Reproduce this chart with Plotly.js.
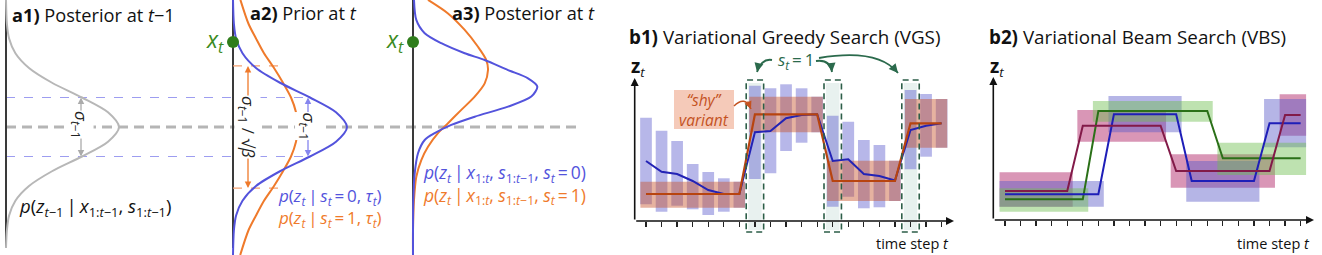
<!DOCTYPE html>
<html><head><meta charset="utf-8">
<script src="https://cdn.plot.ly/plotly-3.0.1.min.js"></script>
<style>html,body{margin:0;padding:0;background:#fff;}#chart{width:1322px;height:255px;}</style>
</head><body><div id="chart"></div>
<script>
// ---------------- data: panels a (z in units of sigma_{t-1}, density in relative units) ----------------
const a1Z      = [4.31, 3.5, 3.0, 2.5, 2.0, 1.5, 1.0, 0.5, 0, -0.5, -1.0, -1.5, -2.0, -2.5, -3.0, -3.5, -4.1];
const a1Dens   = [0.0, 0.009, 0.031, 0.094, 0.23, 0.46, 0.76, 1.02, 1.13, 1.02, 0.76, 0.46, 0.23, 0.094, 0.031, 0.009, 0.0];
const a2Z      = [4.31, 3.5, 3.0, 2.5, 2.0, 1.5, 1.0, 0.5, 0, -0.5, -1.0, -1.5, -2.0, -2.5, -3.0, -3.5, -4.34];
const a2BlueDens   = [0.0, 0.009, 0.031, 0.095, 0.23, 0.47, 0.77, 1.03, 1.14, 1.03, 0.77, 0.47, 0.23, 0.095, 0.031, 0.009, 0.0];
const a2OrangeDens = [0.074, 0.155, 0.23, 0.31, 0.41, 0.50, 0.58, 0.63, 0.65, 0.63, 0.58, 0.50, 0.41, 0.31, 0.23, 0.155, 0.072];
const a3BlueZ      = [4.31, 3.63, 3.18, 2.84, 2.5, 2.27, 1.93, 1.65, 1.37, 1.03, 0.69, 0.35, 0.07, -0.21, -0.44, -0.89, -1.57, -2.47, -4.34];
const a3BlueDens   = [0.01, 0.033, 0.117, 0.283, 0.517, 0.717, 0.95, 1.15, 1.243, 1.183, 0.95, 0.617, 0.383, 0.217, 0.117, 0.05, 0.017, 0.003, 0.0];
const a3OrangeZ    = [4.31, 3.85, 3.29, 2.72, 2.27, 1.93, 1.48, 1.03, 0.58, 0.13, -0.21, -0.67, -1.12, -1.69, -2.47, -3.49, -4.34];
const a3OrangeDens = [0.15, 0.35, 0.517, 0.65, 0.733, 0.75, 0.717, 0.617, 0.483, 0.35, 0.25, 0.15, 0.083, 0.033, 0.01, 0.0, 0.0];
const obsZ = [2.88];          // x_t
const sigmaPrev = 1.0;        // sigma_{t-1}
const sigmaBroad = 2.07;      // sigma_{t-1}/sqrt(beta)

// ---------------- data: panel b1 (VGS) ----------------
const steps = [0,1,2,3,4,5,6,7,8,9,10,11,12,13,14,15,16,17,18,19];
const vgsBlueMean = [6.0, 4.93, 4.7, 4.0, 3.1, 2.7, 2.7, 8.87, 9.0, 10.27, 10.6, 10.67, 6.0, 6.17, 4.7, 4.5, 4.05, 9.1, 9.53, 9.77];
const vgsBlueLo   = [1.67, 0.93, 1.53, 1.17, 0.6, 0.93, 1.33, 4.2, 4.77, 7.0, 7.83, 8.87, 1.43, 2.43, 1.27, 1.37, 2.0, 5.17, 6.43, 7.33];
const vgsBlueHi   = [10.33, 9.03, 8.0, 5.7, 4.9, 4.27, 3.93, 13.53, 13.27, 13.67, 13.27, 12.43, 10.53, 9.93, 8.1, 7.6, 6.03, 13.1, 12.7, 12.2];
const vgsRedMean  = [2.7, 2.7, 2.7, 2.7, 2.7, 2.7, 2.7, 10.67, 10.67, 10.67, 10.67, 10.67, 4.0, 4.0, 4.0, 4.0, 4.0, 9.77, 9.77, 9.77];
const vgsSegStart = [0, 7, 12, 17];
const vgsSegEnd   = [6, 11, 16, 19];
const vgsSegLo    = [1.33, 8.87, 2.0, 7.33];
const vgsSegHi    = [3.93, 12.43, 6.03, 12.2];
const changeSteps = [7, 12, 17];
const highlightLo = -0.9, highlightHi = 13.8;

// ---------------- data: panel b2 (VBS) ----------------
const vbsMaroonMean = [2.9, 2.9, 2.9, 2.9, 2.9, 9.43, 9.43, 9.43, 9.43, 9.43, 9.43, 4.9, 4.9, 4.9, 4.9, 4.9, 4.9, 4.9, 10.5, 10.5];
const vbsGreenMean  = [2.07, 2.07, 2.07, 2.07, 2.07, 2.07, 10.9, 10.9, 10.9, 10.9, 10.9, 10.9, 10.9, 10.9, 6.17, 6.17, 6.17, 6.17, 6.17, 6.17];
const vbsBlueMean   = [2.57, 2.57, 2.57, 2.57, 2.57, 2.57, 2.57, 10.57, 10.57, 10.57, 10.57, 10.57, 3.9, 3.9, 3.9, 3.9, 3.9, 9.67, 9.67, 9.67];
const vbsMaroonStart = [0, 5, 11, 18], vbsMaroonEnd = [4, 10, 17, 19];
const vbsMaroonLo = [1.33, 7.83, 3.23, 8.43], vbsMaroonHi = [4.77, 11.0, 6.57, 12.57];
const vbsGreenStart = [0, 6, 14], vbsGreenEnd = [5, 13, 19];
const vbsGreenLo = [0.83, 9.83, 4.5], vbsGreenHi = [3.17, 11.9, 7.73];
const vbsBlueStart = [0, 7, 12, 17], vbsBlueEnd = [6, 11, 16, 19];
const vbsBlueLo = [1.33, 8.77, 1.83, 7.27], vbsBlueHi = [3.9, 12.4, 5.9, 12.1];

// ---------------- helpers ----------------
const W = 1322, H = 255;
const px = v => v / W;
const py = v => 1 - v / H;
const FONT = '"Open Sans", Lato, sans-serif';
const BLUE = '#5353dc', ORANGE = '#ef7a2b', GRAY = '#b7b7b7', GREEN = '#2f7d1b', DKGREEN = '#2b6a4c', RUST = '#c4521f';

function curve(xa, z, d, color) {
  return {type:'scatter', mode:'lines', x:d, y:z, xaxis:xa, yaxis:'y',
          line:{color:color, width:2, shape:'spline', smoothing:0.8}, hoverinfo:'skip'};
}
function segBars(xa, ya, s, e, lo, hi, color, halfw) {
  return {type:'bar', xaxis:xa, yaxis:ya,
          x: s.map((v,i)=>(v+e[i])/2), base: lo, y: hi.map((v,i)=>v-lo[i]),
          width: s.map((v,i)=>e[i]-v+2*halfw),
          marker:{color:color, line:{width:0}}, hoverinfo:'skip'};
}
function stepLine(xa, ya, y, color, w) {
  return {type:'scatter', mode:'lines', x:steps, y:y, xaxis:xa, yaxis:ya,
          line:{color:color, width:w}, hoverinfo:'skip'};
}

const traces = [
  curve('x', a1Z, a1Dens, GRAY),
  curve('x2', a2Z, a2OrangeDens, ORANGE),
  curve('x2', a2Z, a2BlueDens, BLUE),
  curve('x3', a3OrangeZ, a3OrangeDens, ORANGE),
  curve('x3', a3BlueZ, a3BlueDens, BLUE),
  {type:'scatter', mode:'markers', x:[0], y:obsZ, xaxis:'x2', yaxis:'y', cliponaxis:false,
   marker:{size:12, color:GREEN}, hoverinfo:'skip'},
  {type:'scatter', mode:'markers', x:[0], y:obsZ, xaxis:'x3', yaxis:'y', cliponaxis:false,
   marker:{size:12, color:GREEN}, hoverinfo:'skip'},
  // b1
  {type:'bar', xaxis:'x4', yaxis:'y4', x:changeSteps, base:changeSteps.map(()=>highlightLo),
   y:changeSteps.map(()=>highlightHi-highlightLo), width:0.86,
   marker:{color:'rgba(205,225,220,0.45)', line:{width:0}}, hoverinfo:'skip'},
  {type:'bar', xaxis:'x4', yaxis:'y4', x:steps, base:vgsBlueLo, y:vgsBlueHi.map((v,i)=>v-vgsBlueLo[i]),
   width:0.75, marker:{color:'rgba(92,92,205,0.44)', line:{width:0}}, hoverinfo:'skip'},
  segBars('x4','y4', vgsSegStart, vgsSegEnd, vgsSegLo, vgsSegHi, 'rgba(200,85,45,0.45)', 0.36),
  stepLine('x4','y4', vgsBlueMean, '#2323b5', 2),
  stepLine('x4','y4', vgsRedMean, '#b8440f', 2.2),
  // b2
  segBars('x5','y5', vbsMaroonStart, vbsMaroonEnd, vbsMaroonLo, vbsMaroonHi, 'rgba(180,45,110,0.5)', 0.35),
  segBars('x5','y5', vbsBlueStart, vbsBlueEnd, vbsBlueLo, vbsBlueHi, 'rgba(90,90,200,0.45)', 0.35),
  segBars('x5','y5', vbsGreenStart, vbsGreenEnd, vbsGreenLo, vbsGreenHi, 'rgba(110,190,80,0.45)', 0.35),
  stepLine('x5','y5', vbsGreenMean, '#2b7018', 2),
  stepLine('x5','y5', vbsBlueMean, '#1e1eb8', 2),
  stepLine('x5','y5', vbsMaroonMean, '#821a48', 2),
];

const hidden = {showgrid:false, zeroline:false, showline:false, showticklabels:false, ticks:'', fixedrange:true};
const layout = {
  width:W, height:H, margin:{l:0,r:0,t:0,b:0}, paper_bgcolor:'#fff', plot_bgcolor:'rgba(0,0,0,0)',
  showlegend:false, barmode:'overlay', font:{family:FONT, color:'#111'},
  xaxis:  Object.assign({}, hidden, {domain:[0, px(215)], range:[-0.06, 2.09], anchor:'y'}),
  xaxis2: Object.assign({}, hidden, {domain:[px(215), px(400)], range:[-0.18, 1.67], anchor:'y'}),
  xaxis3: Object.assign({}, hidden, {domain:[px(400), px(615)], range:[-0.13, 2.02], anchor:'y'}),
  yaxis:  Object.assign({}, hidden, {domain:[0,1], range:[-128/29.5, 127/29.5], anchor:'x'}),
  xaxis4: Object.assign({}, hidden, {domain:[px(615), px(960)], range:[(615-646)/15.56, (960-646)/15.56],
           anchor:'free', position:py(221), ticks:'outside', ticklen:5, tickwidth:1.3, tickcolor:'#222',
           tickmode:'array', tickvals:steps}),
  yaxis4: Object.assign({}, hidden, {domain:[0,1], range:[-3.4, 22.1], anchor:'x4'}),
  xaxis5: Object.assign({}, hidden, {domain:[px(960), 1], range:[(960-1005)/15.56, (1322-1005)/15.56],
           anchor:'free', position:py(220), ticks:'outside', ticklen:5, tickwidth:1.3, tickcolor:'#222',
           tickmode:'array', tickvals:steps}),
  yaxis5: Object.assign({}, hidden, {domain:[0,1], range:[-3.5, 22.0], anchor:'x5'}),
};

// ---------------- shapes ----------------
const shapes = [];
['x','x2','x3'].forEach(xa => shapes.push({type:'line', xref:xa, yref:'y', x0:0, x1:0, y0:-4.1, y1:4.31,
  line:{color:'#3a3a3a', width:2}, layer:'below'}));
[sigmaPrev, -sigmaPrev].forEach(z => shapes.push({type:'line', xref:'paper', yref:'y', x0:px(6), x1:px(312), y0:z, y1:z,
  line:{color:'#9d9df0', width:1, dash:'dash'}, layer:'below'}));
[sigmaBroad, -sigmaBroad].forEach(z => shapes.push({type:'line', xref:'x2', yref:'y', x0:0, x1:0.48, y0:z, y1:z,
  line:{color:'#f4a070', width:1.2, dash:'dash'}, layer:'below'}));
shapes.push({type:'line', xref:'paper', yref:'y', x0:px(6), x1:px(582), y0:0, y1:0,
  line:{color:'#b5b5b5', width:3, dash:'10px,6px'}, layer:'below'});
changeSteps.forEach(t => shapes.push({type:'rect', xref:'x4', yref:'y4', x0:t-0.56, x1:t+0.56, y0:-1.1, y1:14.1,
  line:{color:'#2d5e48', width:1.6, dash:'6px,4px'}, fillcolor:'rgba(0,0,0,0)', layer:'above'}));
// "shy" box
shapes.push({type:'rect', xref:'paper', yref:'paper', x0:px(674), x1:px(734), y0:py(129), y1:py(90),
  line:{width:0}, fillcolor:'rgba(236,150,115,0.5)', layer:'above'});
// curved arrows
function qpath(a, c, b) { return `M ${px(a[0])} ${py(a[1])} Q ${px(c[0])} ${py(c[1])} ${px(b[0])} ${py(b[1])}`; }
shapes.push({type:'path', xref:'paper', yref:'paper', path:qpath([734,106],[745,95],[751,109]), line:{color:RUST, width:1.5}});
shapes.push({type:'path', xref:'paper', yref:'paper', path:qpath([772,60],[762,58],[757,72]), line:{color:DKGREEN, width:1.8}});
shapes.push({type:'path', xref:'paper', yref:'paper', path:qpath([816,61],[830,59],[832,72]), line:{color:DKGREEN, width:1.8}});
shapes.push({type:'path', xref:'paper', yref:'paper', path:qpath([819,58],[878,48],[898,73]), line:{color:DKGREEN, width:1.8}});
layout.shapes = shapes;

// ---------------- annotations ----------------
const ann = [];
function txt(text, x, y, size, color, extra) {
  ann.push(Object.assign({xref:'paper', yref:'paper', x:px(x), y:py(y), text:text, showarrow:false,
    xanchor:'left', yanchor:'middle', font:{size:size, color:color||'#111', family:FONT}}, extra||{}));
}
function arrowData(xa, ya, x, y, ax, ay, color, w) {
  ann.push({xref:xa, yref:ya, axref:xa, ayref:ya, x:x, y:y, ax:ax, ay:ay, text:'', showarrow:true,
    arrowhead:2, arrowsize:1, arrowwidth:w||1.3, arrowcolor:color, standoff:0, startstandoff:0});
}
function arrowHead(x, y, ax, ay, color, w) {
  ann.push({xref:'paper', yref:'paper', x:px(x), y:py(y), ax:ax, ay:ay, text:'', showarrow:true,
    arrowhead:2, arrowsize:1, arrowwidth:w, arrowcolor:color, standoff:0});
}
const EQ = '\u2009=\u2009', BAR = '\u2009|\u2009';
const col = (c, s) => `<span style="color:${c}">${s}</span>`;
// titles
txt('<b>a1)</b> Posterior at <i>t</i>−1', 10, 15, 18.2);
txt('<b>a2)</b> Prior at <i>t</i>', 248, 13, 18.2);
txt('<b>a3)</b> Posterior at <i>t</i>', 450, 13, 18.2);
txt('<b>b1)</b> Variational Greedy Search (VGS)', 627, 37, 18.8);
txt('<b>b2)</b> Variational Beam Search (VBS)', 987, 37, 18.8);
// density labels
txt('<i>p</i>(<i>z</i><sub><i>t</i>−1</sub>' + BAR + '<i>x</i><sub>1:<i>t</i>−1</sub>, <i>s</i><sub>1:<i>t</i>−1</sub>)', 17, 207, 18.5);
txt(col(BLUE, '<i>p</i>(<i>z<sub>t</sub></i>' + BAR + '<i>s<sub>t</sub></i>' + EQ + '0, <i>τ<sub>t</sub></i>)') + '<br>' +
    col(ORANGE, '<i>p</i>(<i>z<sub>t</sub></i>' + BAR + '<i>s<sub>t</sub></i>' + EQ + '1, <i>τ<sub>t</sub></i>)'),
    276, 207, 17, BLUE, {align:'left'});
txt(col(BLUE, '<i>p</i>(<i>z<sub>t</sub></i>' + BAR + '<i>x</i><sub>1:<i>t</i></sub>, <i>s</i><sub>1:<i>t</i>−1</sub>, <i>s<sub>t</sub></i>' + EQ + '0)') + '<br>' +
    col(ORANGE, '<i>p</i>(<i>z<sub>t</sub></i>' + BAR + '<i>x</i><sub>1:<i>t</i></sub>, <i>s</i><sub>1:<i>t</i>−1</sub>, <i>s<sub>t</sub></i>' + EQ + '1)'),
    421, 184, 17.5, BLUE, {align:'left'});
// x_t labels
txt('<i>x<sub>t</sub></i>', 226, 40, 23, '#3b8a22', {xanchor:'right'});
txt('<i>x<sub>t</sub></i>', 406, 40, 23, '#3b8a22', {xanchor:'right'});
// sigma arrows
arrowData('x','y', 0.75, sigmaPrev, 0.75, 0, '#ababab');
arrowData('x','y', 0.75, -sigmaPrev, 0.75, 0, '#ababab');
arrowData('x2','y', 0.75, sigmaPrev, 0.75, 0, '#8585ee');
arrowData('x2','y', 0.75, -sigmaPrev, 0.75, 0, '#8585ee');
arrowData('x2','y', 0.15, sigmaBroad, 0.15, 0, ORANGE);
arrowData('x2','y', 0.15, -sigmaBroad, 0.15, 0, ORANGE);
ann.push({xref:'x', yref:'y', x:0.75, y:0.1, text:'<i>σ</i><sub><i>t</i>−1</sub>', textangle:90, showarrow:false,
  bgcolor:'#fff', borderpad:0, font:{size:17, color:'#222', family:FONT}});
ann.push({xref:'x2', yref:'y', x:0.75, y:0.05, text:'<i>σ</i><sub><i>t</i>−1</sub>', textangle:90, showarrow:false,
  bgcolor:'#fff', borderpad:0, font:{size:17, color:'#222', family:FONT}});
ann.push({xref:'x2', yref:'y', x:0.15, y:0, text:'<i>σ</i><sub><i>t</i>−1</sub> / √<i>β</i>', textangle:90, showarrow:false,
  bgcolor:'#fff', borderpad:0, font:{size:17, color:'#222', family:FONT}});
// b axes
arrowData('x4','y4', (634.7-646)/15.56, 14.3, (634.7-646)/15.56, 0, '#111', 1.6);
arrowData('x4','y4', (954-646)/15.56, 0, (634.7-646)/15.56, 0, '#111', 1.6);
arrowData('x5','y5', (993.3-1005)/15.56, 14.3, (993.3-1005)/15.56, 0, '#111', 1.6);
arrowData('x5','y5', (1314-1005)/15.56, 0, (993.3-1005)/15.56, 0, '#111', 1.6);
txt('<b>z</b><sub><i>t</i></sub>', 629, 67, 19);
txt('<b>z</b><sub><i>t</i></sub>', 988, 67, 19);
txt('time step <i>t</i>', 951, 243, 14.5, '#111', {xanchor:'right'});
txt('time step <i>t</i>', 1312, 243, 14.5, '#111', {xanchor:'right'});
// annotations in b1
txt('<i>s<sub>t</sub></i>' + EQ + '1', 796, 60, 17, DKGREEN, {xanchor:'center'});
txt('<i>“shy”<br>variant</i>', 704, 110, 15.5, RUST, {xanchor:'center'});
arrowHead(751, 109, -4, -9, RUST, 1.5);
arrowHead(757, 72, 2, -9, DKGREEN, 1.8);
arrowHead(832, 72, -1, -9, DKGREEN, 1.8);
arrowHead(898, 73, -6, -7, DKGREEN, 1.8);
layout.annotations = ann;

Plotly.newPlot('chart', traces, layout, {displayModeBar:false, staticPlot:true});
</script></body></html>
